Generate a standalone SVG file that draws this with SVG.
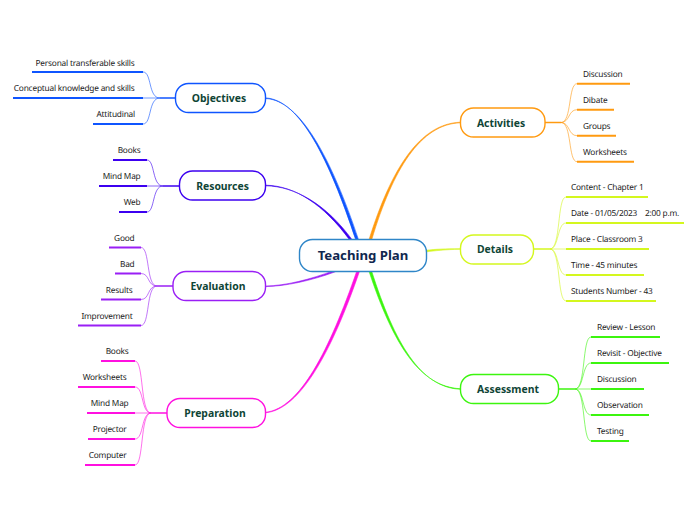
<svg xmlns="http://www.w3.org/2000/svg" width="696" height="520" viewBox="0 0 696 520">
<style>
text{font-family:"Noto Sans","Open Sans",sans-serif;}
.c{font-size:8.3px;fill:#222;letter-spacing:-.2px;stroke:none;text-rendering:geometricPrecision}
.e{text-anchor:end}
.t{font-size:10.4px;font-weight:700;fill:#0f4536;text-anchor:middle}
.m{font-size:13.2px;font-weight:700;fill:#10274f;text-anchor:middle}
.n{fill:#fff;stroke-width:1.4}
.b{stroke-width:.6}
.l{fill:none;stroke-width:1;opacity:.6}
.u{fill:none;stroke-width:2}
.s{fill:none;stroke-width:1.5}
</style>
<rect width="696" height="520" fill="#fff"/>
<g id="connectors">
<g stroke="#0f55ff"><path class="b" fill="#0f55ff" d="M265.700 97.900C300 99.700 329.400 160 355.800 240L358.600 240C331.600 159 300.500 100.300 265.700 98.500Z"/><path class="l" d="M160 98C148 98 152 72 143 72M160 98H143M160 98C148 98 152 124 143 124"/><path class="s" d="M175 98H160"/></g>
<g stroke="#3c00f0"><path class="b" fill="#3c00f0" d="M265.700 185.200C295 185.700 324 204.800 349.700 240L352.300 240C326 204 295 186.300 265.700 185.800Z"/><path class="l" d="M163 186C152 186 155 160 147 160M163 186H147M163 186C152 186 155 212 147 212"/><path class="s" d="M179 186H163"/></g>
<g stroke="#9a1ff5"><path class="b" fill="#9a1ff5" d="M265.700 286C285 285.700 310 279.700 334.700 270.200L335.300 271.800C311 280.800 285 286.300 265.700 286.600Z"/><path class="l" d="M157 286C146 286 150 247.500 141 247.500M157 286C147 286 150 273.500 141 273.500M157 286C147 286 150 299.500 141 299.500M157 286C146 286 150 325.500 141 325.500"/><path class="s" d="M173 286H157"/></g>
<g stroke="#ff10e0"><path class="b" fill="#ff10e0" d="M265.700 412.200C300 408.700 329.400 350 356.800 271L359.600 271C332 351 300.500 409.300 265.700 412.800Z"/><path class="l" d="M151 413C140 413 144 361 135 361M151 413C141 413 144 387 135 387M151 413H135M151 413C141 413 144 439 135 439M151 413C140 413 144 465 135 465"/><path class="s" d="M167 413H151"/></g>
<g stroke="#ff9a10"><path class="b" fill="#ff9a10" d="M460.300 122.200C420 123.700 391.400 168 368.900 240L371.600 240C393 169 420.500 124.300 460.300 122.800Z"/><path class="l" d="M561 122.500C572 122.500 568 83.700 577 83.700M561 122.500C570 122.500 568 109.700 577 109.700M561 122.500C570 122.500 568 135.700 577 135.700M561 122.500C572 122.500 568 161.700 577 161.700"/><path class="s" d="M545 122.500H561"/></g>
<g stroke="#d4f71e"><path class="b" fill="#d4f71e" d="M460.300 248.700C445 248.700 435 249.200 426.700 250.200L426.700 251.800C435 250.800 445 249.500 460.300 249.300Z"/><path class="l" d="M550 249C561 249 557 197 566 197M550 249C559 249 557 223 566 223M550 249H566M550 249C559 249 557 275 566 275M550 249C561 249 557 301 566 301"/><path class="s" d="M533 249H550"/></g>
<g stroke="#3cf50f"><path class="b" fill="#3cf50f" d="M460.300 388.700C420 386.700 393.400 345 368.900 271L371.600 271C395 344 420.500 387.300 460.300 389.300Z"/><path class="l" d="M575 389C586 389 582 337 591 337M575 389C584 389 582 363 591 363M575 389H591M575 389C584 389 582 415 591 415M575 389C586 389 582 441 591 441"/><path class="s" d="M558 389H575"/></g>
</g>
<g id="central"><rect x="299.500" y="239.500" width="127" height="32" rx="13" fill="#fff" stroke="#2f86c8" stroke-width="1.400"/><text class="m" x="363" y="260">Teaching Plan</text></g>
<g id="objectives"><rect class="n" x="175.500" y="83.500" width="90" height="29" rx="13" stroke="#0f55ff"/><text class="t" x="219" y="102">Objectives</text></g>
<g id="resources"><rect class="n" x="179.500" y="171" width="86" height="29" rx="13" stroke="#3c00f0"/><text class="t" x="222.500" y="190">Resources</text></g>
<g id="evaluation"><rect class="n" x="173" y="271.500" width="92.500" height="29" rx="13" stroke="#9a1ff5"/><text class="t" x="218" y="290">Evaluation</text></g>
<g id="preparation"><rect class="n" x="167" y="398.500" width="98.500" height="29" rx="13" stroke="#ff10e0"/><text class="t" x="215" y="417">Preparation</text></g>
<g id="activities"><rect class="n" x="460.500" y="108" width="84.500" height="29" rx="13" stroke="#ff9a10"/><text class="t" x="501" y="127">Activities</text></g>
<g id="details"><rect class="n" x="460.500" y="235" width="73" height="29" rx="13" stroke="#d4f71e"/><text class="t" x="495" y="253">Details</text></g>
<g id="assessment"><rect class="n" x="460.500" y="374.500" width="98" height="29" rx="13" stroke="#3cf50f"/><text class="t" x="508" y="393">Assessment</text></g>
<g id="obj-children" stroke="#0f55ff"><path class="u" d="M32 72H143M13 98H143M93 124H143"/><text class="c e" x="134.500" y="66">Personal transferable skills</text><text class="c e" x="134.500" y="91">Conceptual knowledge and skills</text><text class="c e" x="135" y="117">Attitudinal</text></g>
<g id="res-children" stroke="#3c00f0"><path class="u" d="M113 160H147M99 186H147M119 212H147"/><text class="c e" x="140.500" y="153">Books</text><text class="c e" x="140.500" y="179">Mind Map</text><text class="c e" x="140.500" y="205">Web</text></g>
<g id="eva-children" stroke="#9a1ff5"><path class="u" d="M109 247.500H141M115 273.500H141M101 299.500H141M78 325.500H141"/><text class="c e" x="134.500" y="241">Good</text><text class="c e" x="134.500" y="267">Bad</text><text class="c e" x="132.500" y="293">Results</text><text class="c e" x="132.500" y="319">Improvement</text></g>
<g id="pre-children" stroke="#ff10e0"><path class="u" d="M101 361H135M78 387H135M87 413H135M88 439H135M85 465H135"/><text class="c e" x="128.500" y="354">Books</text><text class="c e" x="126.500" y="380">Worksheets</text><text class="c e" x="128.500" y="406">Mind Map</text><text class="c e" x="126.500" y="432">Projector</text><text class="c e" x="126.500" y="458">Computer</text></g>
<g id="act-children" stroke="#ff9a10"><path class="u" d="M577 83.700H630M577 109.700H614M577 135.700H616M577 161.700H634"/><text class="c" x="583" y="77">Discussion</text><text class="c" x="583" y="103">Dibate</text><text class="c" x="583" y="129">Groups</text><text class="c" x="583" y="155">Worksheets</text></g>
<g id="det-children" stroke="#d4f71e"><path class="u" d="M566 197H648M566 223H684M566 249H649M566 275H644M566 301H656"/><text class="c" x="571" y="190">Content - Chapter 1</text><text class="c" x="571" y="216" xml:space="preserve">Date - 01/05/2023    2:00 p.m.</text><text class="c" x="571" y="242">Place - Classroom 3</text><text class="c" x="571" y="268">Time - 45 minutes</text><text class="c" x="571" y="294">Students Number - 43</text></g>
<g id="ass-children" stroke="#3cf50f"><path class="u" d="M591 337H660M591 363H669M591 389H644M591 415H649M591 441H629"/><text class="c" x="597" y="330">Review - Lesson</text><text class="c" x="597" y="356">Revisit - Objective</text><text class="c" x="597" y="382">Discussion</text><text class="c" x="597" y="408">Observation</text><text class="c" x="597" y="434">Testing</text></g>
</svg>
